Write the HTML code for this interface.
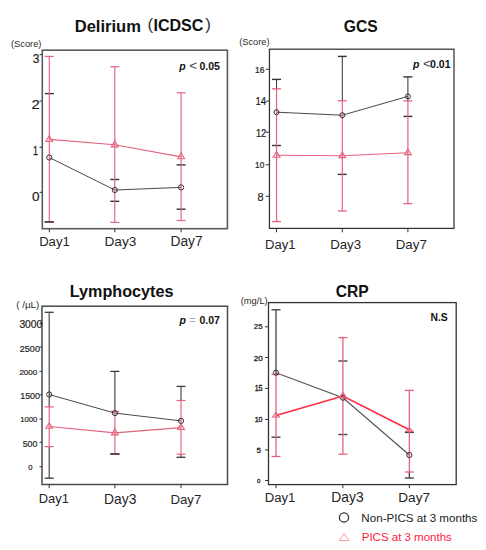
<!DOCTYPE html>
<html><head><meta charset="utf-8"><style>
html,body{margin:0;padding:0;background:#fff;width:486px;height:550px;overflow:hidden}
svg{display:block;font-family:"Liberation Sans",sans-serif}
</style></head><body>
<svg width="486" height="550" viewBox="0 0 486 550">
<rect x="0" y="0" width="486" height="550" fill="#ffffff"/>
<text x="74.72" y="32.39" font-size="16.54" font-weight="bold" font-style="normal" fill="#111" >Delirium</text>
<text x="153.46" y="31.34" font-size="16.06" font-weight="bold" font-style="normal" fill="#111" >ICDSC</text>
<text x="147.48" y="30.22" font-size="17" font-weight="normal" font-style="normal" fill="#333" >(</text>
<text x="205.22" y="30.22" font-size="17" font-weight="normal" font-style="normal" fill="#333" >)</text>
<text x="10.94" y="47.36" font-size="9.32" font-weight="normal" font-style="normal" fill="#2a2a2a" >(Score)</text>
<rect x="42.3" y="50.2" width="185.10000000000002" height="178.5" fill="none" stroke="#5a5a5a" stroke-width="1.6"/>
<line x1="39.5" y1="54.6" x2="42.3" y2="54.6" stroke="#333" stroke-width="1"/>
<text transform="translate(32.72,63.06) scale(1,1.127)" font-size="12.00" font-weight="normal" font-style="normal" fill="#1e1e1e" stroke="#1e1e1e" stroke-width="0.2">3</text>
<line x1="39.5" y1="101.1" x2="42.3" y2="101.1" stroke="#333" stroke-width="1"/>
<text transform="translate(31.55,109.45) scale(1,0.884)" font-size="14.95" font-weight="normal" font-style="normal" fill="#1e1e1e" stroke="#1e1e1e" stroke-width="0.2">2</text>
<line x1="39.5" y1="147.3" x2="42.3" y2="147.3" stroke="#333" stroke-width="1"/>
<text transform="translate(33.03,154.50) scale(1,1.455)" font-size="8.97" font-weight="normal" font-style="normal" fill="#1e1e1e" stroke="#1e1e1e" stroke-width="0.2">1</text>
<line x1="39.5" y1="192.3" x2="42.3" y2="192.3" stroke="#333" stroke-width="1"/>
<text transform="translate(32.06,200.57) scale(1,0.967)" font-size="13.54" font-weight="normal" font-style="normal" fill="#1e1e1e" stroke="#1e1e1e" stroke-width="0.2">0</text>
<line x1="49.3" y1="228.7" x2="49.3" y2="232.3" stroke="#333" stroke-width="1"/>
<text x="39.15" y="245.55" font-size="13.12" font-weight="normal" font-style="normal" fill="#262626" >Day1</text>
<line x1="114.8" y1="228.7" x2="114.8" y2="232.3" stroke="#333" stroke-width="1"/>
<text x="104.51" y="245.98" font-size="13.68" font-weight="normal" font-style="normal" fill="#262626" >Day3</text>
<line x1="181.1" y1="228.7" x2="181.1" y2="232.3" stroke="#333" stroke-width="1"/>
<text x="170.5" y="245.88" font-size="13.74" font-weight="normal" font-style="normal" fill="#262626" >Day7</text>
<text x="199.48" y="69.97" font-size="10.53" font-weight="bold" font-style="normal" fill="#111" >0.05</text>
<text x="179.30" y="69.97" font-size="10.53" font-weight="bold" font-style="italic" fill="#111">p</text>
<text x="189.30" y="69.97" font-size="13.5" fill="#444">&lt;</text>
<polyline points="49.3,139.4 114.8,144.8 181.1,156.9" fill="none" stroke="#e4637e" stroke-width="1.1"/>
<polyline points="49.3,157.5 114.8,190 181.1,187.4" fill="none" stroke="#484848" stroke-width="1.0"/>
<line x1="44.8" y1="93.6" x2="53.8" y2="93.6" stroke="#333333" stroke-width="1.4"/>
<line x1="44.8" y1="221.9" x2="53.8" y2="221.9" stroke="#333333" stroke-width="1.4"/>
<line x1="110.3" y1="179.5" x2="119.3" y2="179.5" stroke="#333333" stroke-width="1.4"/>
<line x1="110.3" y1="201.3" x2="119.3" y2="201.3" stroke="#333333" stroke-width="1.4"/>
<line x1="176.6" y1="164.9" x2="185.6" y2="164.9" stroke="#333333" stroke-width="1.4"/>
<line x1="176.6" y1="209.2" x2="185.6" y2="209.2" stroke="#333333" stroke-width="1.4"/>
<line x1="49.3" y1="56.4" x2="49.3" y2="221.9" stroke="#e4637e" stroke-width="1.15"/>
<line x1="44.8" y1="56.4" x2="53.8" y2="56.4" stroke="#e4637e" stroke-width="1.2"/>
<line x1="44.8" y1="221.9" x2="53.8" y2="221.9" stroke="#e4637e" stroke-width="1.2"/>
<line x1="114.8" y1="66.8" x2="114.8" y2="222.4" stroke="#e4637e" stroke-width="1.15"/>
<line x1="110.3" y1="66.8" x2="119.3" y2="66.8" stroke="#e4637e" stroke-width="1.2"/>
<line x1="110.3" y1="222.4" x2="119.3" y2="222.4" stroke="#e4637e" stroke-width="1.2"/>
<line x1="181.1" y1="92.8" x2="181.1" y2="220.5" stroke="#e4637e" stroke-width="1.15"/>
<line x1="176.6" y1="92.8" x2="185.6" y2="92.8" stroke="#e4637e" stroke-width="1.2"/>
<line x1="176.6" y1="220.5" x2="185.6" y2="220.5" stroke="#e4637e" stroke-width="1.2"/>
<circle cx="49.3" cy="157.5" r="2.6" fill="none" stroke="#333333" stroke-width="1.0"/>
<polygon points="49.3,135.7 52.75,141.5 45.849999999999994,141.5" fill="none" stroke="#e4637e" stroke-width="1.1"/>
<circle cx="114.8" cy="190" r="2.6" fill="none" stroke="#333333" stroke-width="1.0"/>
<polygon points="114.8,140.7 118.25,146.9 111.35,146.9" fill="none" stroke="#e4637e" stroke-width="1.1"/>
<circle cx="181.1" cy="187.4" r="2.6" fill="none" stroke="#333333" stroke-width="1.0"/>
<polygon points="181.1,153 184.54999999999998,158.8 177.65,158.8" fill="none" stroke="#e4637e" stroke-width="1.1"/>
<text x="343.87" y="32.15" font-size="15.65" font-weight="bold" font-style="normal" fill="#111" >GCS</text>
<text x="239.24" y="44.71" font-size="9.26" font-weight="normal" font-style="normal" fill="#2a2a2a" >(Score)</text>
<rect x="269.45" y="49.2" width="184.55" height="179.2" fill="none" stroke="#333" stroke-width="1.25"/>
<line x1="265.8" y1="69.3" x2="269.45" y2="69.3" stroke="#333" stroke-width="1"/>
<text transform="translate(255.06,72.72) scale(1,0.989)" font-size="8.54" font-weight="normal" font-style="normal" fill="#1e1e1e" stroke="#1e1e1e" stroke-width="0.2">16</text>
<line x1="265.8" y1="101.1" x2="269.45" y2="101.1" stroke="#333" stroke-width="1"/>
<text transform="translate(255.48,105.40) scale(1,1.183)" font-size="9.55" font-weight="normal" font-style="normal" fill="#1e1e1e" stroke="#1e1e1e" stroke-width="0.2">14</text>
<line x1="265.8" y1="132.2" x2="269.45" y2="132.2" stroke="#333" stroke-width="1"/>
<text transform="translate(255.90,137.40) scale(1,1.162)" font-size="9.34" font-weight="normal" font-style="normal" fill="#1e1e1e" stroke="#1e1e1e" stroke-width="0.2">12</text>
<line x1="265.8" y1="164.8" x2="269.45" y2="164.8" stroke="#333" stroke-width="1"/>
<text transform="translate(255.08,167.62) scale(1,1.018)" font-size="8.30" font-weight="normal" font-style="normal" fill="#1e1e1e" stroke="#1e1e1e" stroke-width="0.2">10</text>
<line x1="265.8" y1="196.3" x2="269.45" y2="196.3" stroke="#333" stroke-width="1"/>
<text transform="translate(257.51,200.50) scale(1,0.922)" font-size="10.85" font-weight="normal" font-style="normal" fill="#1e1e1e" stroke="#1e1e1e" stroke-width="0.2">8</text>
<line x1="276.55" y1="228.4" x2="276.55" y2="232.3" stroke="#333" stroke-width="1"/>
<text x="264.95" y="249.25" font-size="13.12" font-weight="normal" font-style="normal" fill="#262626" >Day1</text>
<line x1="342.3" y1="228.4" x2="342.3" y2="232.3" stroke="#333" stroke-width="1"/>
<text x="330.14" y="249.49" font-size="13.27" font-weight="normal" font-style="normal" fill="#262626" >Day3</text>
<line x1="407.9" y1="228.4" x2="407.9" y2="232.3" stroke="#333" stroke-width="1"/>
<text x="395.73" y="249.4" font-size="13.33" font-weight="normal" font-style="normal" fill="#262626" >Day7</text>
<text x="430.08" y="68.07" font-size="10.53" font-weight="bold" font-style="normal" fill="#111" >0.01</text>
<text x="413.00" y="68.07" font-size="10.53" font-weight="bold" font-style="italic" fill="#111">p</text>
<text x="423.00" y="68.07" font-size="13.5" fill="#444">&lt;</text>
<polyline points="276.55,155.3 342.3,155.7 407.9,152.8" fill="none" stroke="#e4637e" stroke-width="1.1"/>
<polyline points="276.55,112.2 342.3,115.2 407.9,96.4" fill="none" stroke="#484848" stroke-width="1.0"/>
<line x1="276.55" y1="79.4" x2="276.55" y2="88.85" stroke="#333333" stroke-width="1.0"/>
<line x1="272.05" y1="79.4" x2="281.05" y2="79.4" stroke="#333333" stroke-width="1.4"/>
<line x1="272.05" y1="145.5" x2="281.05" y2="145.5" stroke="#333333" stroke-width="1.4"/>
<line x1="342.3" y1="56.4" x2="342.3" y2="100.8" stroke="#333333" stroke-width="1.0"/>
<line x1="337.8" y1="56.4" x2="346.8" y2="56.4" stroke="#333333" stroke-width="1.4"/>
<line x1="337.8" y1="174.4" x2="346.8" y2="174.4" stroke="#333333" stroke-width="1.4"/>
<line x1="407.9" y1="76.9" x2="407.9" y2="100.9" stroke="#333333" stroke-width="1.0"/>
<line x1="403.4" y1="76.9" x2="412.4" y2="76.9" stroke="#333333" stroke-width="1.4"/>
<line x1="403.4" y1="116.4" x2="412.4" y2="116.4" stroke="#333333" stroke-width="1.4"/>
<line x1="276.55" y1="88.85" x2="276.55" y2="221.6" stroke="#e4637e" stroke-width="1.2"/>
<line x1="272.05" y1="88.85" x2="281.05" y2="88.85" stroke="#e4637e" stroke-width="1.3"/>
<line x1="272.05" y1="221.6" x2="281.05" y2="221.6" stroke="#e4637e" stroke-width="1.3"/>
<line x1="342.3" y1="100.8" x2="342.3" y2="211" stroke="#e4637e" stroke-width="1.2"/>
<line x1="337.8" y1="100.8" x2="346.8" y2="100.8" stroke="#e4637e" stroke-width="1.3"/>
<line x1="337.8" y1="211" x2="346.8" y2="211" stroke="#e4637e" stroke-width="1.3"/>
<line x1="407.9" y1="100.9" x2="407.9" y2="203.6" stroke="#e4637e" stroke-width="1.2"/>
<line x1="403.4" y1="100.9" x2="412.4" y2="100.9" stroke="#e4637e" stroke-width="1.3"/>
<line x1="403.4" y1="203.6" x2="412.4" y2="203.6" stroke="#e4637e" stroke-width="1.3"/>
<circle cx="276.55" cy="112.2" r="2.5" fill="none" stroke="#333333" stroke-width="1.0"/>
<polygon points="276.55,151.5 280.0,157.2 273.1,157.2" fill="none" stroke="#e4637e" stroke-width="1.1"/>
<circle cx="342.3" cy="115.2" r="2.5" fill="none" stroke="#333333" stroke-width="1.0"/>
<polygon points="342.3,152 345.75,157.6 338.85,157.6" fill="none" stroke="#e4637e" stroke-width="1.1"/>
<circle cx="407.9" cy="96.4" r="2.5" fill="none" stroke="#333333" stroke-width="1.0"/>
<polygon points="407.9,149 411.34999999999997,154.6 404.45,154.6" fill="none" stroke="#e4637e" stroke-width="1.1"/>
<text x="69.75" y="296.73" font-size="16.18" font-weight="bold" font-style="normal" fill="#111" >Lymphocytes</text>
<text x="16.32" y="308.15" font-size="9.73" font-weight="normal" font-style="normal" fill="#2a2a2a" >( /µL)</text>
<rect x="42.0" y="306.2" width="185.5" height="178.3" fill="none" stroke="#4a4a4a" stroke-width="1.5"/>
<line x1="39.5" y1="323.5" x2="42.0" y2="323.5" stroke="#333" stroke-width="1"/>
<text x="19.39" y="328.03" font-size="10.33" font-weight="normal" font-style="normal" fill="#1e1e1e" stroke="#1e1e1e" stroke-width="0.2">3000</text>
<line x1="39.5" y1="347.1" x2="42.0" y2="347.1" stroke="#333" stroke-width="1"/>
<text x="19.74" y="351.58" font-size="9.11" font-weight="normal" font-style="normal" fill="#1e1e1e" stroke="#1e1e1e" stroke-width="0.2">2500</text>
<line x1="39.5" y1="371.4" x2="42.0" y2="371.4" stroke="#333" stroke-width="1"/>
<text x="19.4" y="375.03" font-size="8.04" font-weight="normal" font-style="normal" fill="#1e1e1e" stroke="#1e1e1e" stroke-width="0.2">2000</text>
<line x1="39.5" y1="394.8" x2="42.0" y2="394.8" stroke="#333" stroke-width="1"/>
<text x="20.23" y="399.42" font-size="8.89" font-weight="normal" font-style="normal" fill="#1e1e1e" stroke="#1e1e1e" stroke-width="0.2">1500</text>
<line x1="39.5" y1="419.1" x2="42.0" y2="419.1" stroke="#333" stroke-width="1"/>
<text x="20.23" y="422.46" font-size="7.66" font-weight="normal" font-style="normal" fill="#1e1e1e" stroke="#1e1e1e" stroke-width="0.2">1000</text>
<line x1="39.5" y1="442.3" x2="42.0" y2="442.3" stroke="#333" stroke-width="1"/>
<text x="22.65" y="447.36" font-size="8.81" font-weight="normal" font-style="normal" fill="#1e1e1e" stroke="#1e1e1e" stroke-width="0.2">500</text>
<line x1="39.5" y1="466.7" x2="42.0" y2="466.7" stroke="#333" stroke-width="1"/>
<text x="28.2" y="470.22" font-size="7.61" font-weight="normal" font-style="normal" fill="#1e1e1e" stroke="#1e1e1e" stroke-width="0.2">0</text>
<line x1="49.2" y1="484.5" x2="49.2" y2="488.2" stroke="#333" stroke-width="1"/>
<text x="38.76" y="503.23" font-size="12.94" font-weight="normal" font-style="normal" fill="#262626" >Day1</text>
<line x1="114.9" y1="484.5" x2="114.9" y2="488.2" stroke="#333" stroke-width="1"/>
<text x="104.09" y="504.0" font-size="13.86" font-weight="normal" font-style="normal" fill="#262626" >Day3</text>
<line x1="181.0" y1="484.5" x2="181.0" y2="488.2" stroke="#333" stroke-width="1"/>
<text x="170.44" y="503.74" font-size="13.24" font-weight="normal" font-style="normal" fill="#262626" >Day7</text>
<text x="199.38" y="324.26" font-size="10.51" font-weight="bold" font-style="normal" fill="#111" >0.07</text>
<text x="179.50" y="324.26" font-size="10.51" font-weight="bold" font-style="italic" fill="#111">p</text>
<text x="189.00" y="324.26" font-size="11" fill="#aaa">=</text>
<polyline points="49.2,426.5 114.9,432.9 181.0,427.7" fill="none" stroke="#e4637e" stroke-width="1.2"/>
<polyline points="49.2,394.5 114.9,413.1 181.0,420.9" fill="none" stroke="#484848" stroke-width="1.0"/>
<line x1="49.2" y1="312.3" x2="49.2" y2="406.9" stroke="#3a3a3a" stroke-width="1.1"/>
<line x1="49.2" y1="446.6" x2="49.2" y2="478.2" stroke="#3a3a3a" stroke-width="1.1"/>
<line x1="44.7" y1="312.3" x2="53.7" y2="312.3" stroke="#3a3a3a" stroke-width="1.3"/>
<line x1="44.7" y1="478.2" x2="53.7" y2="478.2" stroke="#3a3a3a" stroke-width="1.3"/>
<line x1="114.9" y1="371.4" x2="114.9" y2="411.5" stroke="#3a3a3a" stroke-width="1.1"/>
<line x1="110.4" y1="371.4" x2="119.4" y2="371.4" stroke="#3a3a3a" stroke-width="1.3"/>
<line x1="110.4" y1="454" x2="119.4" y2="454" stroke="#3a3a3a" stroke-width="1.3"/>
<line x1="181.0" y1="386.4" x2="181.0" y2="400.5" stroke="#3a3a3a" stroke-width="1.1"/>
<line x1="181.0" y1="454.2" x2="181.0" y2="457.3" stroke="#3a3a3a" stroke-width="1.1"/>
<line x1="176.5" y1="386.4" x2="185.5" y2="386.4" stroke="#3a3a3a" stroke-width="1.3"/>
<line x1="176.5" y1="457.3" x2="185.5" y2="457.3" stroke="#3a3a3a" stroke-width="1.3"/>
<line x1="49.2" y1="406.9" x2="49.2" y2="446.6" stroke="#e4637e" stroke-width="1.15"/>
<line x1="44.7" y1="406.9" x2="53.7" y2="406.9" stroke="#e4637e" stroke-width="1.2"/>
<line x1="44.7" y1="446.6" x2="53.7" y2="446.6" stroke="#e4637e" stroke-width="1.2"/>
<line x1="114.9" y1="411.5" x2="114.9" y2="454" stroke="#e4637e" stroke-width="1.15"/>
<line x1="110.4" y1="411.5" x2="119.4" y2="411.5" stroke="#e4637e" stroke-width="1.2"/>
<line x1="110.4" y1="454" x2="119.4" y2="454" stroke="#e4637e" stroke-width="1.2"/>
<line x1="181.0" y1="400.5" x2="181.0" y2="454.2" stroke="#e4637e" stroke-width="1.15"/>
<line x1="176.5" y1="400.5" x2="185.5" y2="400.5" stroke="#e4637e" stroke-width="1.2"/>
<line x1="176.5" y1="454.2" x2="185.5" y2="454.2" stroke="#e4637e" stroke-width="1.2"/>
<circle cx="49.2" cy="394.5" r="2.6" fill="none" stroke="#333333" stroke-width="1.0"/>
<polygon points="49.2,422.9 52.650000000000006,428.3 45.75,428.3" fill="none" stroke="#e4637e" stroke-width="1.1"/>
<circle cx="114.9" cy="413.1" r="2.6" fill="none" stroke="#333333" stroke-width="1.0"/>
<polygon points="114.9,428.9 118.35000000000001,434.9 111.45,434.9" fill="none" stroke="#e4637e" stroke-width="1.1"/>
<circle cx="181.0" cy="420.9" r="2.6" fill="none" stroke="#333333" stroke-width="1.0"/>
<polygon points="181.0,424.1 184.45,429.5 177.55,429.5" fill="none" stroke="#e4637e" stroke-width="1.1"/>
<text x="335.77" y="297.05" font-size="15.64" font-weight="bold" font-style="normal" fill="#111" >CRP</text>
<text x="240.64" y="303.92" font-size="9.4" font-weight="normal" font-style="normal" fill="#2a2a2a" >(mg/L)</text>
<rect x="268.5" y="302.6" width="187.7" height="182.0" fill="none" stroke="#333" stroke-width="1.3"/>
<line x1="265" y1="326.8" x2="268.5" y2="326.8" stroke="#333" stroke-width="1"/>
<text transform="translate(253.81,329.44) scale(1,0.826)" font-size="7.84" font-weight="normal" font-style="normal" fill="#1a1a1a" stroke="#1a1a1a" stroke-width="0.3">25</text>
<line x1="265" y1="357.4" x2="268.5" y2="357.4" stroke="#333" stroke-width="1"/>
<text transform="translate(253.80,360.52) scale(1,0.974)" font-size="8.10" font-weight="normal" font-style="normal" fill="#1a1a1a" stroke="#1a1a1a" stroke-width="0.3">20</text>
<line x1="265" y1="388.4" x2="268.5" y2="388.4" stroke="#333" stroke-width="1"/>
<text transform="translate(254.66,391.22) scale(1,1.161)" font-size="7.14" font-weight="normal" font-style="normal" fill="#1a1a1a" stroke="#1a1a1a" stroke-width="0.3">15</text>
<line x1="265" y1="419.4" x2="268.5" y2="419.4" stroke="#333" stroke-width="1"/>
<text transform="translate(254.67,421.72) scale(1,1.111)" font-size="7.10" font-weight="normal" font-style="normal" fill="#1a1a1a" stroke="#1a1a1a" stroke-width="0.3">10</text>
<line x1="265" y1="449.9" x2="268.5" y2="449.9" stroke="#333" stroke-width="1"/>
<text x="256.58" y="452.72" font-size="8.0" font-weight="normal" font-style="normal" fill="#1a1a1a" stroke="#1a1a1a" stroke-width="0.3">5</text>
<line x1="265" y1="480.5" x2="268.5" y2="480.5" stroke="#333" stroke-width="1"/>
<text x="256.96" y="483.24" font-size="6.06" font-weight="normal" font-style="normal" fill="#1a1a1a" stroke="#1a1a1a" stroke-width="0.3">0</text>
<line x1="276.0" y1="484.6" x2="276.0" y2="488.2" stroke="#333" stroke-width="1"/>
<text x="264.75" y="501.65" font-size="13.12" font-weight="normal" font-style="normal" fill="#262626" >Day1</text>
<line x1="342.9" y1="484.6" x2="342.9" y2="488.2" stroke="#333" stroke-width="1"/>
<text x="331.29" y="501.9" font-size="13.86" font-weight="normal" font-style="normal" fill="#262626" >Day3</text>
<line x1="409.35" y1="484.6" x2="409.35" y2="488.2" stroke="#333" stroke-width="1"/>
<text x="398.32" y="501.56" font-size="13.56" font-weight="normal" font-style="normal" fill="#262626" >Day7</text>
<text x="430.43" y="321.05" font-size="10.35" font-weight="bold" font-style="normal" fill="#111" >N.S</text>
<polyline points="276.0,372.7 342.9,397.7 409.35,455" fill="none" stroke="#555" stroke-width="1.2"/>
<polyline points="276.0,415.4 342.9,396 409.35,429.8" fill="none" stroke="#ff2a3a" stroke-width="1.6"/>
<line x1="276.0" y1="309.8" x2="276.0" y2="374.4" stroke="#444" stroke-width="1.3"/>
<line x1="271.5" y1="309.8" x2="280.5" y2="309.8" stroke="#444" stroke-width="1.4"/>
<line x1="271.5" y1="437.2" x2="280.5" y2="437.2" stroke="#444" stroke-width="1.4"/>
<line x1="338.4" y1="361" x2="347.4" y2="361" stroke="#444" stroke-width="1.4"/>
<line x1="338.4" y1="434.5" x2="347.4" y2="434.5" stroke="#444" stroke-width="1.4"/>
<line x1="409.35" y1="472" x2="409.35" y2="478" stroke="#444" stroke-width="1.3"/>
<line x1="404.85" y1="432.4" x2="413.85" y2="432.4" stroke="#444" stroke-width="1.4"/>
<line x1="404.85" y1="478" x2="413.85" y2="478" stroke="#444" stroke-width="1.4"/>
<line x1="276.0" y1="374.4" x2="276.0" y2="456.5" stroke="#e4637e" stroke-width="1.3"/>
<line x1="271.5" y1="374.4" x2="280.5" y2="374.4" stroke="#e4637e" stroke-width="1.3"/>
<line x1="271.5" y1="456.5" x2="280.5" y2="456.5" stroke="#e4637e" stroke-width="1.3"/>
<line x1="342.9" y1="337.6" x2="342.9" y2="454.2" stroke="#e4637e" stroke-width="1.3"/>
<line x1="338.4" y1="337.6" x2="347.4" y2="337.6" stroke="#e4637e" stroke-width="1.3"/>
<line x1="338.4" y1="454.2" x2="347.4" y2="454.2" stroke="#e4637e" stroke-width="1.3"/>
<line x1="409.35" y1="390.4" x2="409.35" y2="472" stroke="#e4637e" stroke-width="1.3"/>
<line x1="404.85" y1="390.4" x2="413.85" y2="390.4" stroke="#e4637e" stroke-width="1.3"/>
<line x1="404.85" y1="472" x2="413.85" y2="472" stroke="#e4637e" stroke-width="1.3"/>
<circle cx="276.0" cy="372.7" r="2.6" fill="none" stroke="#333333" stroke-width="1.0"/>
<polygon points="276.0,412.2 279.45,417 272.55,417" fill="none" stroke="#e4637e" stroke-width="1.1"/>
<circle cx="342.9" cy="397.7" r="2.6" fill="none" stroke="#333333" stroke-width="1.0"/>
<polygon points="342.9,392.4 346.34999999999997,397.8 339.45,397.8" fill="none" stroke="#e4637e" stroke-width="1.1"/>
<circle cx="409.35" cy="455" r="2.6" fill="none" stroke="#333333" stroke-width="1.0"/>
<polygon points="409.35,427.6 412.8,431.4 405.90000000000003,431.4" fill="none" stroke="#e4637e" stroke-width="1.1"/>
<line x1="44.8" y1="221.9" x2="53.8" y2="221.9" stroke="#333" stroke-width="1.3"/>
<line x1="110.4" y1="454" x2="119.4" y2="454" stroke="#333" stroke-width="1.3"/>
<circle cx="344" cy="517.4" r="4.6" fill="none" stroke="#333" stroke-width="1.3"/>
<polygon points="344.1,533.6 349.1,540.6 339.1,540.6" fill="none" stroke="#f29aa8" stroke-width="1"/>
<text x="361.37" y="521.81" font-size="11.6" font-weight="normal" font-style="normal" fill="#222" >Non-PICS at 3 months</text>
<text x="361.78" y="541.23" font-size="11.49" font-weight="normal" font-style="normal" fill="#ff2040" >PICS at 3 months</text>
</svg>
</body></html>
